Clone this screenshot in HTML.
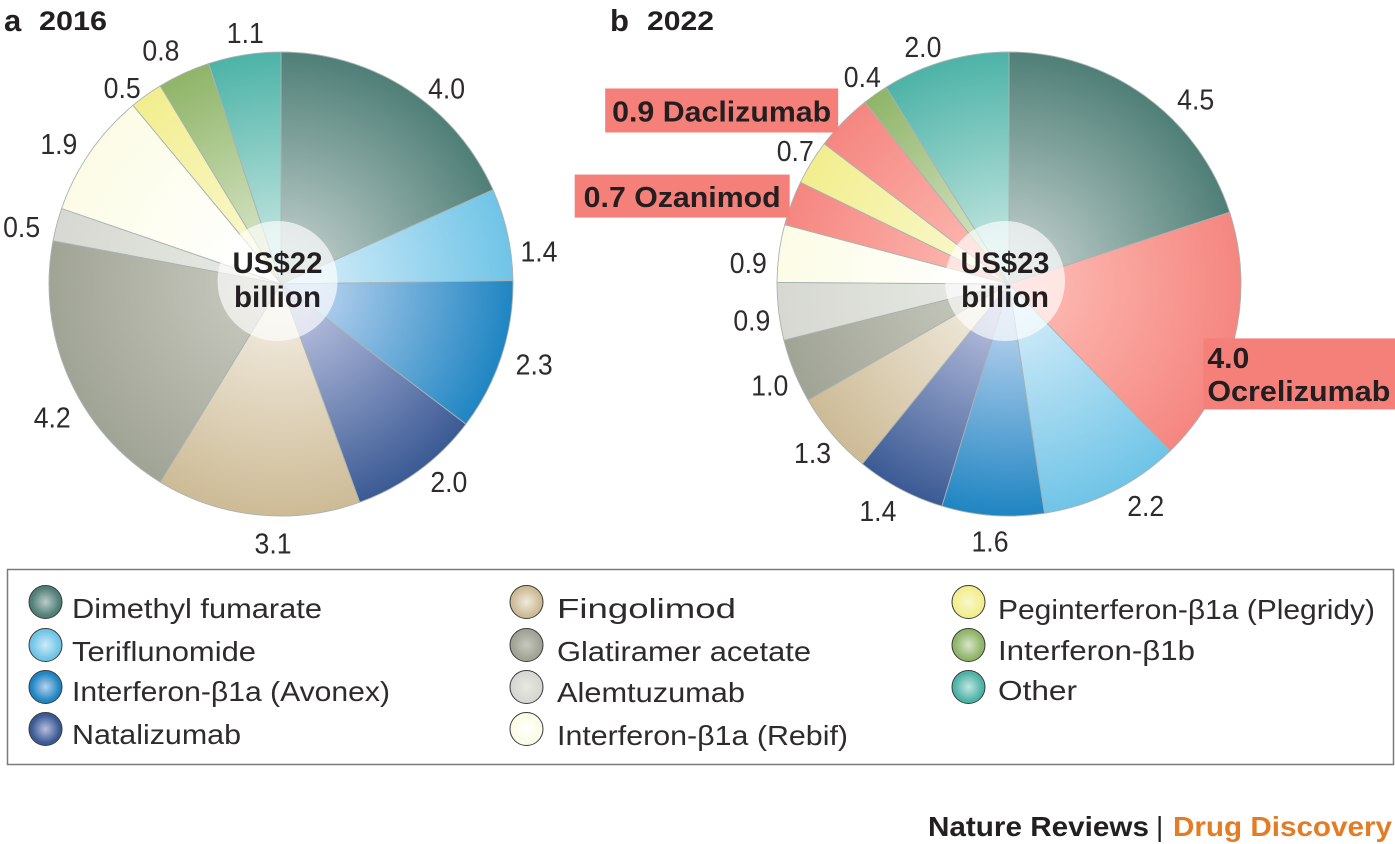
<!DOCTYPE html>
<html lang="en">
<head>
<meta charset="utf-8">
<title>Multiple sclerosis drug market 2016 and 2022</title>
<style>
  html, body { margin: 0; padding: 0; background: #fff; width: 1395px; height: 844px; overflow: hidden; }
  svg { display: block; font-family: "Liberation Sans", "DejaVu Sans", sans-serif; }
  .num { font-size: 29px; fill: #2e2b2c; }
  .bold { font-weight: bold; fill: #231f20; }
  .leg { font-size: 28px; fill: #2e2b2c; }
</style>
</head>
<body>
<svg id="chart" xmlns="http://www.w3.org/2000/svg" width="1395" height="844" viewBox="0 0 1395 844">
  <defs id="defs"></defs>
  <text class="bold" x="4" y="31" font-size="31">a</text>
  <text class="bold" x="39" y="30" font-size="27" textLength="68" lengthAdjust="spacingAndGlyphs">2016</text>
  <text class="bold" x="610" y="31" font-size="31">b</text>
  <text class="bold" x="647" y="30" font-size="27" textLength="67" lengthAdjust="spacingAndGlyphs">2022</text>
  <g id="pie-a"></g>
  <g id="pie-b"></g>
  <rect x="7.5" y="569.5" width="1386" height="195" fill="none" stroke="#7a7a7a" stroke-width="1.5"></rect>
  <g id="legend"></g>
  <text class="bold" x="928" y="836" font-size="28" textLength="221" lengthAdjust="spacingAndGlyphs">Nature Reviews</text>
  <text x="1156" y="836" font-size="28" fill="#231f20">|</text>
  <text x="1173" y="836" font-size="28" font-weight="bold" fill="#e37c25" textLength="219" lengthAdjust="spacingAndGlyphs">Drug Discovery</text>
</svg>
<script>
// ---- Data ----
const categories2016 = ['Dimethyl fumarate','Teriflunomide','Interferon-β1a (Avonex)','Natalizumab','Fingolimod','Glatiramer acetate','Alemtuzumab','Interferon-β1a (Rebif)','Peginterferon-β1a (Plegridy)','Interferon-β1b','Other'];
const values2016 = [4.0, 1.4, 2.3, 2.0, 3.1, 4.2, 0.5, 1.9, 0.5, 0.8, 1.1];
const categories2022 = ['Dimethyl fumarate','Ocrelizumab','Teriflunomide','Interferon-β1a (Avonex)','Natalizumab','Fingolimod','Glatiramer acetate','Alemtuzumab','Interferon-β1a (Rebif)','Ozanimod','Peginterferon-β1a (Plegridy)','Daclizumab','Interferon-β1b','Other'];
const values2022 = [4.5, 4.0, 2.2, 1.6, 1.4, 1.3, 1.0, 0.9, 0.9, 0.7, 0.7, 0.9, 0.4, 2.0];
const legendColumns = [
  ['Dimethyl fumarate','Teriflunomide','Interferon-β1a (Avonex)','Natalizumab'],
  ['Fingolimod','Glatiramer acetate','Alemtuzumab','Interferon-β1a (Rebif)'],
  ['Peginterferon-β1a (Plegridy)','Interferon-β1b','Other']
];

// ---- Styling and hand layout (not data) ----
const palette = {
  'Dimethyl fumarate': ['#bccbc8', '#4f7f77'],
  'Teriflunomide': ['#cfebf8', '#70c4e7'],
  'Interferon-β1a (Avonex)': ['#b8d2ee', '#1f85c2'],
  'Natalizumab': ['#b7bfde', '#3b5a94'],
  'Fingolimod': ['#f0eadd', '#cdbb96'],
  'Glatiramer acetate': ['#c6c8bd', '#a0a495'],
  'Alemtuzumab': ['#e6e8e3', '#d6d8d1'],
  'Interferon-β1a (Rebif)': ['#ffffff', '#fcfce6'],
  'Peginterferon-β1a (Plegridy)': ['#f9f8ce', '#f2ee8e'],
  'Interferon-β1b': ['#d8e5c8', '#8fb568'],
  'Other': ['#c2e5e0', '#4db3a7'],
  'Ocrelizumab': ['#fcb9b1', '#f58680'],
  'Ozanimod': ['#fcb9b1', '#f58680'],
  'Daclizumab': ['#fcb9b1', '#f58680']
};
const labelNudgeA = [[25,21],[6,23],[8,0],[15,-10],[18,3],[7,29],[-10,9],[-10,7],[-9,14],[-12,1],[5,4]];
const labelNudgeB = [[35,24],[40,27.5],[22,-9],[-1,0],[-10,-1],[0,2],[0,5],[-1,6],[-5,13],[-85,2],[6,2],[-103,7],[2,4],[-15,11]];
const boxStyles = {
  'Ocrelizumab': { w: 192, h: 71, stacked: true },
  'Ozanimod': { w: 215, h: 43, stacked: false, textW: 197 },
  'Daclizumab': { w: 233, h: 44, stacked: false, textW: 219 }
};

const NS = 'http://www.w3.org/2000/svg';
const defs = document.getElementById('defs');
function make(tag, attrs, parent) {
  const el = document.createElementNS(NS, tag);
  for (const k in attrs) el.setAttribute(k, attrs[k]);
  if (parent) parent.appendChild(el);
  return el;
}
function slug(s) {
  return s.toLowerCase().replace(/β/g, 'beta').replace(/[^a-z0-9]+/g, '-').replace(/^-|-$/g, '');
}
// Axis function: value → clockwise angle from 12 o'clock, radians
function angleScale(values) {
  const total = values.reduce((a, b) => a + b, 0);
  return v => v / total * Math.PI * 2;
}
function polar(cx, cy, r, a) {
  return [cx + r * Math.sin(a), cy - r * Math.cos(a)];
}

function drawPie(opts) {
  const { group, id, categories, values, nudge, cx, cy, r, hub, hubText, hubW } = opts;
  const g = document.getElementById(group);
  const scale = angleScale(values);
  let cum = 0;
  const boxes = [];
  values.forEach((v, i) => {
    const name = categories[i];
    const gid = id + '-grad-' + i;
    const grad = make('radialGradient', { id: gid, gradientUnits: 'userSpaceOnUse', cx: cx, cy: cy, r: r }, defs);
    make('stop', { offset: '0.15', 'stop-color': palette[name][0] }, grad);
    make('stop', { offset: '1', 'stop-color': palette[name][1] }, grad);
    const a0 = scale(cum), a1 = scale(cum + v);
    const p0 = polar(cx, cy, r, a0), p1 = polar(cx, cy, r, a1);
    const large = a1 - a0 > Math.PI ? 1 : 0;
    const slice = make('path', {
      d: `M${cx} ${cy}L${p0[0]} ${p0[1]}A${r} ${r} 0 ${large} 1 ${p1[0]} ${p1[1]}Z`,
      fill: `url(#${gid})`, stroke: '#a9b3b1', 'stroke-width': 0.9
    }, g);
    
    
    const mid = (a0 + a1) / 2;
    const base = polar(cx, cy, 258, mid);
    const lx = base[0] + nudge[i][0], ly = base[1] + nudge[i][1];
    if (boxStyles[name]) {
      boxes.push({ name: name, v: v, lx: lx, ly: ly });
    } else {
      const t = make('text', { x: lx, y: ly + 10, 'text-anchor': 'middle', class: 'num', textLength: 37, lengthAdjust: 'spacingAndGlyphs' }, g);
      
      
      t.textContent = v.toFixed(1);
    }
    cum += v;
  });
  // Centre hub
  const disc = make('circle', { cx: hub[0], cy: hub[1], r: hub[2], fill: '#fff', 'fill-opacity': 0.66 }, g);
  
  
  const t1 = make('text', { x: hub[0], y: hub[1] - 8, 'text-anchor': 'middle', class: 'bold', 'font-size': 30, textLength: hubW[0], lengthAdjust: 'spacingAndGlyphs' }, g);
  
  
  t1.textContent = hubText;
  const t2 = make('text', { x: hub[0], y: hub[1] + 26, 'text-anchor': 'middle', class: 'bold', 'font-size': 30, textLength: hubW[1], lengthAdjust: 'spacingAndGlyphs' }, g);
  
  
  t2.textContent = 'billion';
  // Highlighted callouts
  boxes.forEach(b => {
    const s = boxStyles[b.name];
    const rect = make('rect', { x: b.lx - s.w / 2, y: b.ly - s.h / 2, width: s.w, height: s.h, fill: '#f57f79' }, g);
    
    
    if (s.stacked) {
      const l1 = make('text', { x: b.lx - s.w / 2 + 4, y: b.ly - 6, class: 'bold', 'font-size': 29, textLength: 42, lengthAdjust: 'spacingAndGlyphs' }, g);
      
      
      l1.textContent = b.v.toFixed(1);
      const l2 = make('text', { x: b.lx - s.w / 2 + 4, y: b.ly + 27, class: 'bold', 'font-size': 29, textLength: 183, lengthAdjust: 'spacingAndGlyphs' }, g);
      
      
      l2.textContent = b.name;
    } else {
      const l = make('text', { x: b.lx, y: b.ly + 11, 'text-anchor': 'middle', class: 'bold', 'font-size': 29, textLength: s.textW, lengthAdjust: 'spacingAndGlyphs' }, g);
      
      
      l.textContent = b.v.toFixed(1) + ' ' + b.name;
    }
  });
}

drawPie({ group: 'pie-a', id: 'a', categories: categories2016, values: values2016, nudge: labelNudgeA,
  cx: 281, cy: 284, r: 232, hub: [277.5, 281, 60], hubText: 'US$22', hubW: [90, 87] });
drawPie({ group: 'pie-b', id: 'b', categories: categories2022, values: values2022, nudge: labelNudgeB,
  cx: 1009, cy: 284, r: 232, hub: [1005, 281, 60], hubText: 'US$23', hubW: [89, 88] });

// ---- Legend ----
const legendLayout = [
  { swatchX: 45.5, textX: 72, widths: [250, 184, 318, 169], swatchY: [602, 645, 687, 729], baseY: [618, 661, 701, 744] },
  { swatchX: 526.5, textX: 557, widths: [179, 254, 188, 291], swatchY: [602, 645, 687, 729], baseY: [618, 661, 702, 745] },
  { swatchX: 968.5, textX: 998, widths: [377, 197, 79], swatchY: [602, 645, 687], baseY: [619, 660, 700] }
];
const legendG = document.getElementById('legend');
legendColumns.forEach((col, c) => {
  const lay = legendLayout[c];
  col.forEach((name, row) => {
    const gid = 'legend-grad-' + c + '-' + row;
    const grad = make('radialGradient', { id: gid, cx: '0.5', cy: '0.5', r: '0.5' }, defs);
    make('stop', { offset: '0', 'stop-color': palette[name][0] }, grad);
    make('stop', { offset: '0.85', 'stop-color': palette[name][1] }, grad);
    make('stop', { offset: '1', 'stop-color': palette[name][1] }, grad);
    const sw = make('circle', { cx: lay.swatchX, cy: lay.swatchY[row], r: 16.5, fill: `url(#${gid})`, stroke: '#3a3a3a', 'stroke-width': 1 }, legendG);
    
    
    const t = make('text', { x: lay.textX, y: lay.baseY[row], class: 'leg', textLength: lay.widths[row], lengthAdjust: 'spacingAndGlyphs' }, legendG);
    
    
    t.textContent = name;
  });
});
</script>
</body>
</html>
